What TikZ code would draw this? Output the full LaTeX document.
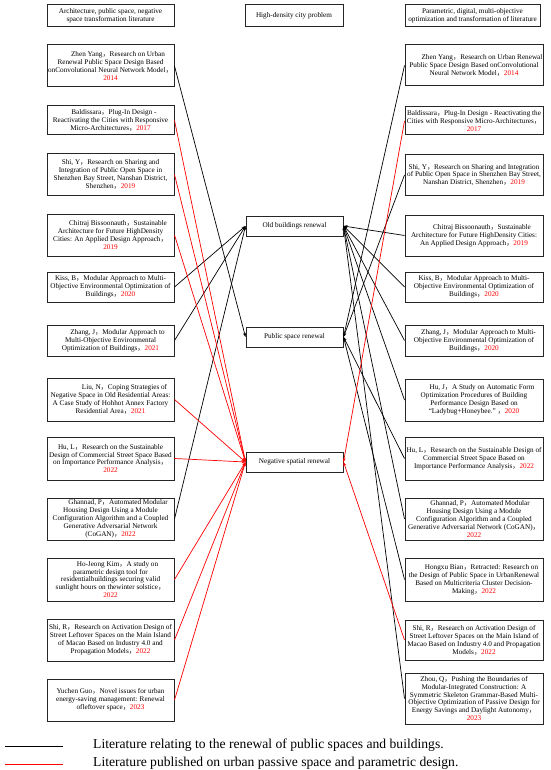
\documentclass[tikz,border=0pt]{standalone}
\usepackage{fontspec}
\setmainfont{Liberation Serif}
\newfontfamily\cjkfont{Noto Sans CJK SC}
\usetikzlibrary{arrows.meta}
\newcommand\fwc{{\cjkfont ，}}
\newcommand\ry[1]{\textcolor{red}{#1}}
\newcommand\lind[1]{\hspace*{#1pt}}
\tikzset{
  bx/.style={draw=black!85, line width=1pt, inner sep=0.5pt, align=center, font=\fontsize{7.2}{7.9}\selectfont},
  lb/.style={bx, minimum width=127pt},
  rb/.style={bx, minimum width=138pt},
  cb/.style={bx, minimum width=97pt, minimum height=20pt},
  bl/.style={line width=0.7pt, -{Stealth[length=4pt,width=3pt]}},
  rl/.style={bl, red},
  legtxt/.style={anchor=west, inner sep=0pt, font=\fontsize{13.6}{15}\selectfont}
}
\begin{document}
\begin{tikzpicture}[x=1pt,y=-1pt]
\useasboundingbox (0,0) rectangle (550,770);
% headers
\node[lb, minimum height=22pt] (H1) at (110.5,16) {Architecture, public space, negative\\space transformation literature};
\node[bx, minimum width=98pt, minimum height=22pt] (H2) at (294,16) {High-density city problem};
\node[bx, minimum width=135pt, minimum height=22pt] (H3) at (472.5,16) {Parametric, digital, multi-objective\\optimization and transformation of literature};
% centre nodes
\node[cb] (OB) at (294.5,226) {Old buildings renewal};
\node[cb] (PS) at (294.5,337) {Public space renewal};
\node[cb] (NS) at (294.5,462) {Negative spatial renewal};
% left column
\node[lb, minimum height=42pt] (L1) at (110.5,66) {\lind{15}Zhen Yang\fwc Research on Urban\\Renewal Public Space Design Based\\onConvolutional Neural Network Model\fwc\\\ry{2014}};
\node[lb, minimum height=29pt] (L2) at (110.5,120.5) {\lind{7}Baldissara\fwc Plug-In Design -\\Reactivating the Cities with Responsive\\Micro-Architectures\fwc\ry{2017}};
\node[lb, minimum height=41pt] (L3) at (110.5,174.5) {Shi, Y\fwc Research on Sharing and\\Integration of Public Open Space in\\Shenzhen Bay Street, Nanshan District,\\Shenzhen\fwc\ry{2019}};
\node[lb, minimum height=42pt] (L4) at (110.5,235) {\lind{15}Chitraj Bissoonauth\fwc Sustainable\\Architecture for Future HighDensity\\Cities: An Applied Design Approach\fwc\\\ry{2019}};
\node[lb, minimum height=30pt] (L5) at (110.5,287) {Kiss, B\fwc Modular Approach to Multi-\\Objective Environmental Optimization of\\Buildings\fwc\ry{2020}};
\node[lb, minimum height=31pt] (L6) at (110.5,340.5) {\lind{14}Zhang, J\fwc Modular Approach to\\Multi-Objective Environmental\\Optimization of Buildings\fwc\ry{2021}};
\node[lb, minimum height=43pt] (L7) at (110.5,399.5) {\lind{28}Liu, N\fwc Coping Strategies of\\Negative Space in Old Residential Areas:\\A Case Study of Hohhot Annex Factory\\Residential Area\fwc\ry{2021}};
\node[lb, minimum height=43pt] (L8) at (110.5,458.5) {Hu, L\fwc Research on the Sustainable\\Design of Commercial Street Space Based\\on Importance Performance Analysis\fwc\\\ry{2022}};
\node[lb, minimum height=42pt] (L9) at (110.5,519) {\lind{15}Ghannad, P\fwc Automated Modular\\Housing Design Using a Module\\Configuration Algorithm and a Coupled\\Generative Adversarial Network\\(CoGAN)\fwc\ry{2022}};
\node[lb, minimum height=43pt] (L10) at (110.5,579.5) {\lind{14}Ho-Jeong Kim\fwc A study on\\parametric design tool for\\residentialbuildings securing valid\\sunlight hours on thewinter solstice\fwc\\\ry{2022}};
\node[lb, minimum height=42pt] (L11) at (110.5,640) {Shi, R\fwc Research on Activation Design of\\Street Leftover Spaces on the Main Island\\of Macao Based on Industry 4.0 and\\Propagation Models\fwc\ry{2022}};
\node[lb, minimum height=42pt] (L12) at (110.5,700) {Yuchen Guo\fwc Novel issues for urban\\energy-saving management: Renewal\\ofleftover space\fwc\ry{2023}};
% right column
\node[rb, minimum height=41pt] (R1) at (474,65.5) {\lind{16}Zhen Yang\fwc Research on Urban Renewal\\Public Space Design Based onConvolutional\\Neural Network Model\fwc\ry{2014}};
\node[rb, minimum height=28pt] (R2) at (474,121) {Baldissara\fwc Plug-In Design - Reactivating the\\Cities with Responsive Micro-Architectures\fwc\\\ry{2017}};
\node[rb, minimum height=40pt] (R3) at (474,175) {Shi, Y\fwc Research on Sharing and Integration\\of Public Open Space in Shenzhen Bay Street,\\Nanshan District, Shenzhen\fwc\ry{2019}};
\node[rb, minimum height=41pt] (R4) at (474,235.5) {\lind{16}Chitraj Bissoonauth\fwc Sustainable\\Architecture for Future HighDensity Cities:\\An Applied Design Approach\fwc\ry{2019}};
\node[rb, minimum height=30pt] (R5) at (474,287) {Kiss, B\fwc Modular Approach to Multi-\\Objective Environmental Optimization of\\Buildings\fwc\ry{2020}};
\node[rb, minimum height=31pt] (R6) at (474,340.5) {\lind{9}Zhang, J\fwc Modular Approach to Multi-\\Objective Environmental Optimization of\\Buildings\fwc\ry{2020}};
\node[rb, minimum height=42pt] (R7) at (474,400) {\lind{16}Hu, J\fwc A Study on Automatic Form\\Optimization Procedures of Building\\Performance Design Based on\\``Ladybug+Honeybee.''\ \fwc\ry{2020}};
\node[rb, minimum height=43pt] (R8) at (474,458.5) {Hu, L\fwc Research on the Sustainable Design of\\Commercial Street Space Based on\\Importance Performance Analysis\fwc\ry{2022}};
\node[rb, minimum height=42pt] (R9) at (474,519) {\lind{12}Ghannad, P\fwc Automated Modular\\Housing Design Using a Module\\Configuration Algorithm and a Coupled\\Generative Adversarial Network (CoGAN)\fwc\\\ry{2022}};
\node[rb, minimum height=43pt] (R10) at (474,579.5) {\lind{15}Hongxu Bian\fwc Retracted: Research on\\the Design of Public Space in UrbanRenewal\\Based on Multicriteria Cluster Decision-\\Making\fwc\ry{2022}};
\node[rb, minimum height=40pt] (R11) at (474,640) {Shi, R\fwc Research on Activation Design of\\Street Leftover Spaces on the Main Island of\\Macao Based on Industry 4.0 and Propagation\\Models\fwc\ry{2022}};
\node[rb, minimum height=51pt] (R12) at (474,698.5) {Zhou, Q\fwc Pushing the Boundaries of\\Modular-Integrated Construction: A\\Symmetric Skeleton Grammar-Based Multi-\\Objective Optimization of Passive Design for\\Energy Savings and Daylight Autonomy\fwc\\\ry{2023}};
% left connectors
\draw[bl] (L1.east) -- (PS.west);
\draw[bl] (L5.east) -- (OB.west);
\draw[bl] (L6.east) -- (OB.west);
\draw[bl] (L9.east) -- (OB.west);
\foreach \n in {L2,L3,L4,L7,L8,L10,L11,L12} {\draw[rl] (\n.east) -- (NS.west);}
% right connectors
\foreach \n in {R1,R3,R8,R10} {\draw[bl] (\n.west) -- (PS.east);}
\foreach \n in {R4,R5,R6,R7,R9,R12} {\draw[bl] (\n.west) -- (OB.east);}
\foreach \n in {R2,R11} {\draw[rl] (\n.west) -- (NS.east);}
% legend
\coordinate (k1a) at (5,746); \coordinate (k1b) at (63,746);
\coordinate (k2a) at (5,764); \coordinate (k2b) at (63,764);
\draw[line width=0.8pt] (k1a) -- (k1b);
\draw[line width=0.8pt, red] (k2a) -- (k2b);
\node[legtxt] (T1) at (93,745) {Literature relating to the renewal of public spaces and buildings.};
\node[legtxt] (T2) at (93,763) {Literature published on urban passive space and parametric design.};
\end{tikzpicture}
\end{document}
